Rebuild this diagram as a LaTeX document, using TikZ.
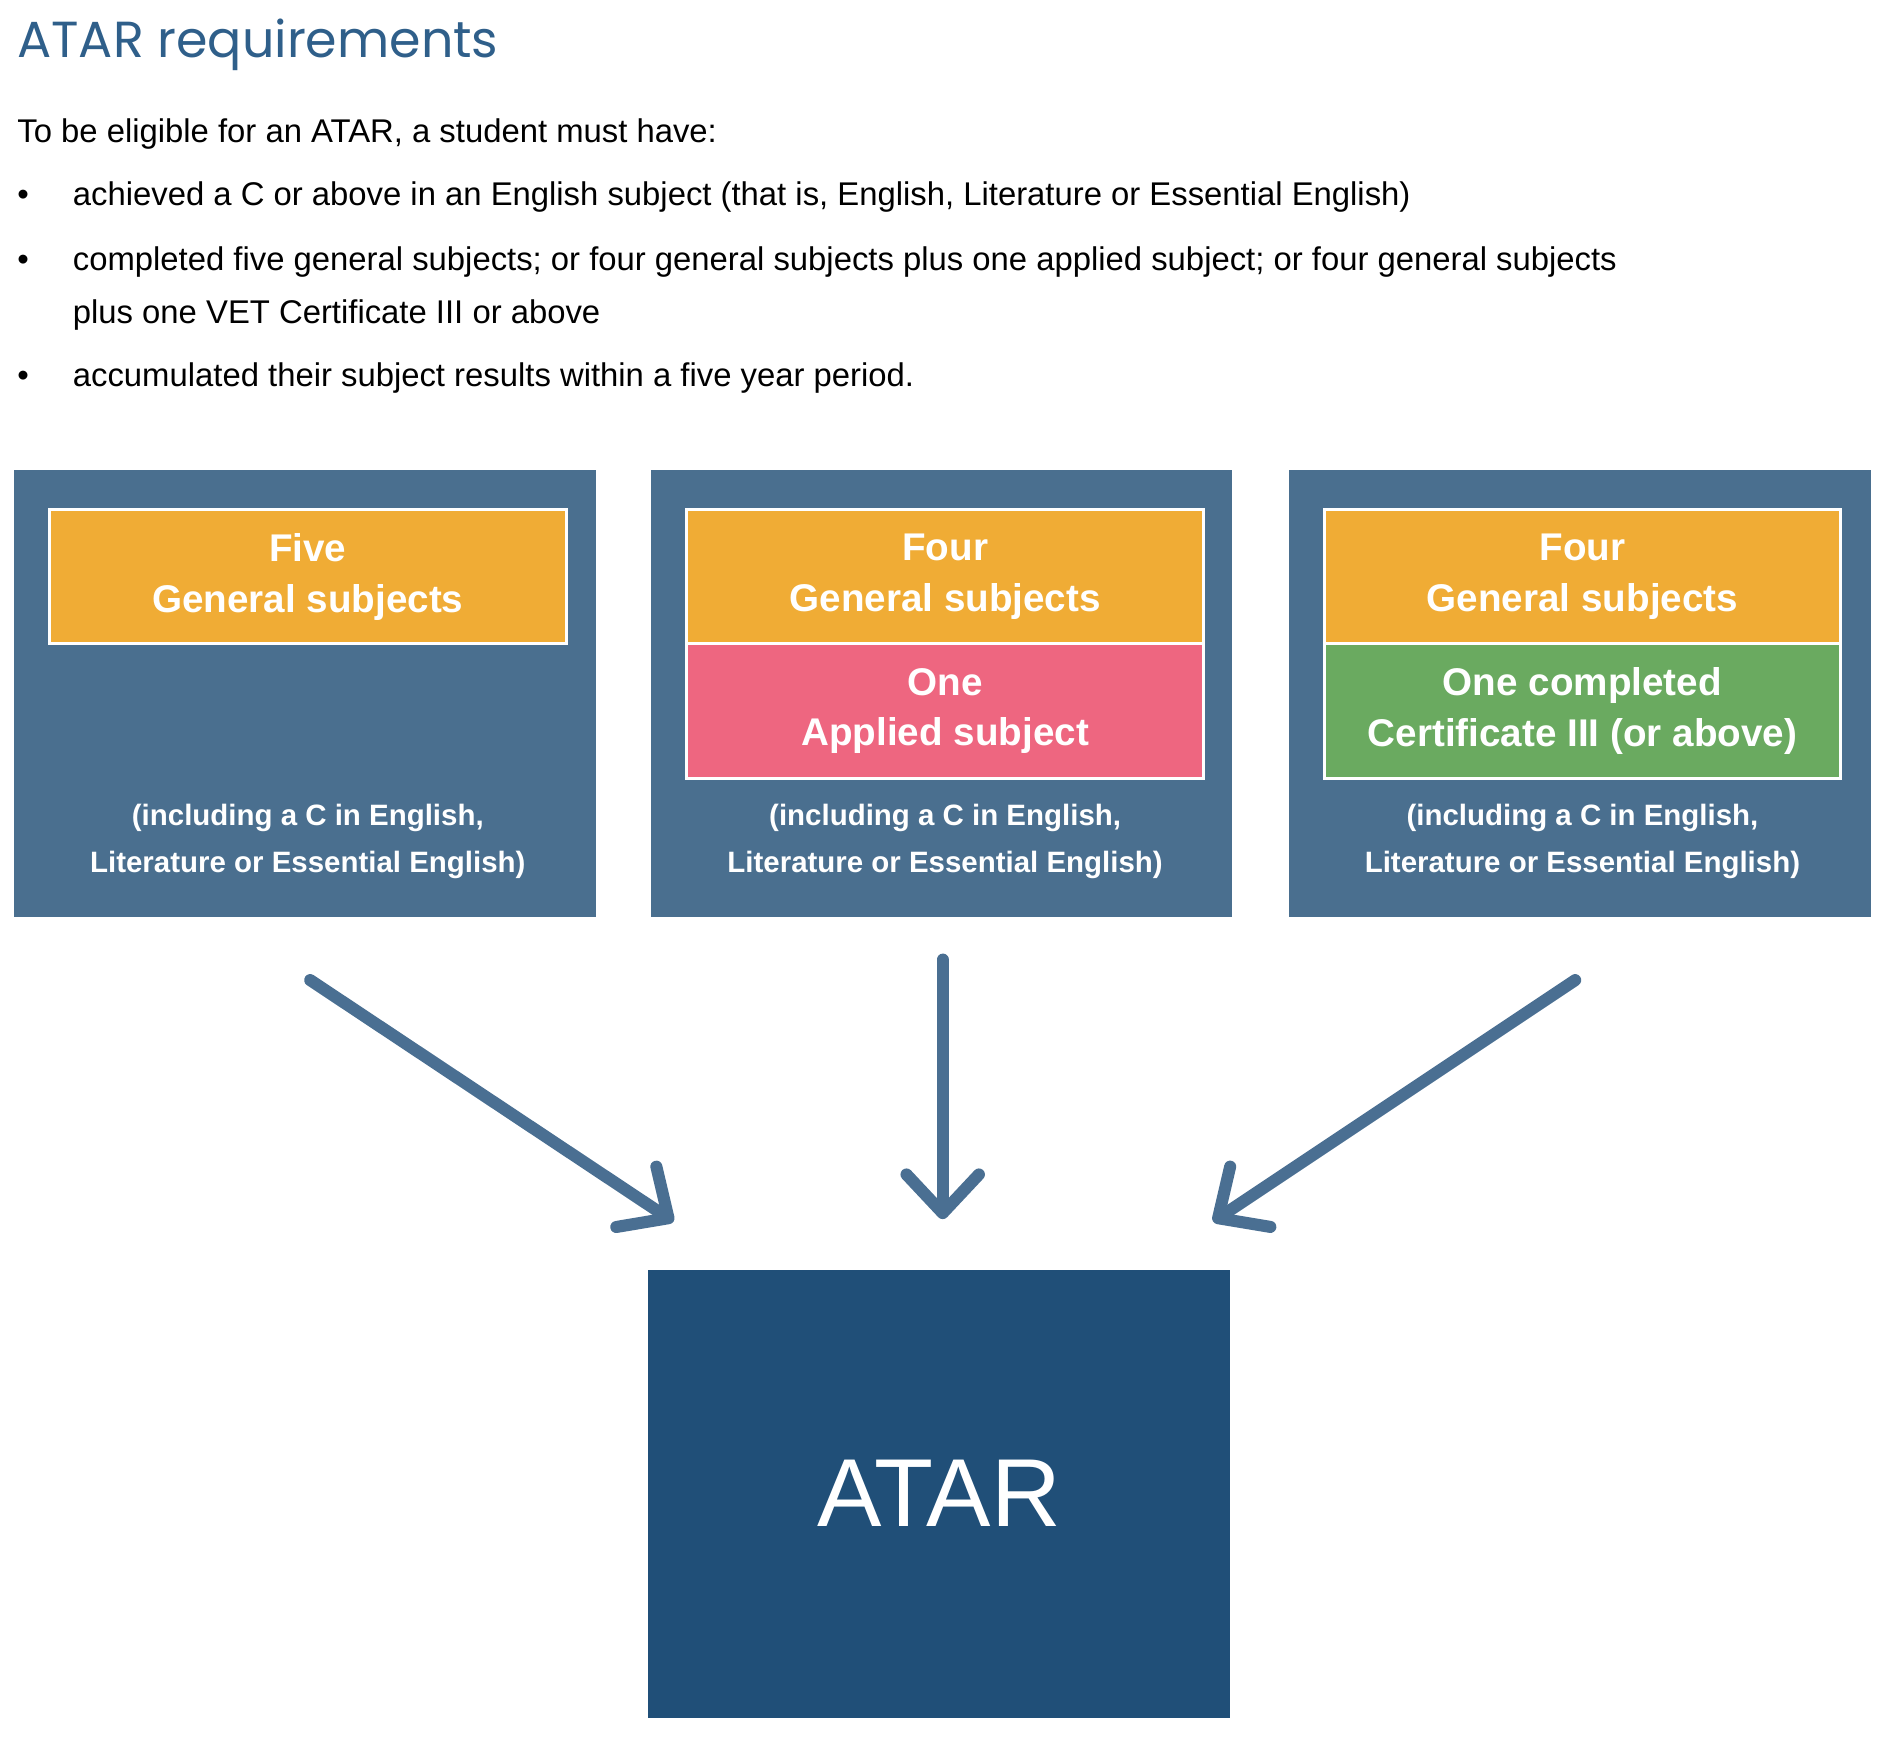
\documentclass[tikz,border=0pt]{standalone}
\usepackage{fontspec}
\setmainfont{Liberation Sans}
\newfontfamily\titlefont{Poppins}
\usetikzlibrary{arrows.meta}
\definecolor{outerblue}{HTML}{4A6F8F}
\definecolor{arrowblue}{HTML}{4A6F92}
\definecolor{darkblue}{HTML}{204F78}
\definecolor{titleblue}{HTML}{2F5F8A}
\definecolor{orangeb}{HTML}{F0AC35}
\definecolor{pinkb}{HTML}{EE6680}
\definecolor{greenb}{HTML}{6AAA60}
\tikzset{
  outer/.style={fill=outerblue,draw=none},
  inner/.style={draw=white,line width=1.2pt},
  head/.style={text=white,font=\bfseries\fontsize{16}{21}\selectfont,align=center},
  note/.style={text=white,font=\bfseries\fontsize{12.2}{19.5}\selectfont,align=center},
  body/.style={anchor=base west,font=\fontsize{13.6}{16}\selectfont,inner sep=0},
  arr/.style={draw=arrowblue,line width=5pt,line cap=round,-{Straight Barb[length=16pt,width=30pt,line width=5pt,round]}}
}
\begin{document}
\begin{tikzpicture}[x=0.5pt,y=-0.5pt]
\useasboundingbox (0,0) rectangle (1560,1440);
\node[anchor=base west,inner sep=0,text=titleblue,font=\titlefont\fontsize{21}{24}\selectfont] (title) at (14,48) {ATAR requirements};
\node[body] (intro) at (14,118) {To be eligible for an ATAR, a student must have:};
\node[body] (b1) at (14,170) {•};
\node[body] (t1) at (60,170) {achieved a C or above in an English subject (that is, English, Literature or Essential English)};
\node[body] (b2) at (14,224) {•};
\node[body] (t2) at (60,224) {completed five general subjects; or four general subjects plus one applied subject; or four general subjects};
\node[body] (t2b) at (60,268) {plus one VET Certificate III or above};
\node[body] (b3) at (14,320) {•};
\node[body] (t3) at (60,320) {accumulated their subject results within a five year period.};
% boxes
\fill[outer] (12,389) rectangle (494,760);
\fill[outer] (539,389) rectangle (1021,760);
\fill[outer] (1068,389) rectangle (1550,760);
\draw[inner,fill=orangeb] (41,422) rectangle (469,533);
\node[head] (h1) at (255,478) {Five\\General subjects};
\draw[inner,fill=orangeb] (569,422) rectangle (997,533);
\node[head] (h2) at (783,478) {Four\\General subjects};
\draw[inner,fill=pinkb] (569,533) rectangle (997,645);
\node[head] (p2) at (783,589) {One\\Applied subject};
\draw[inner,fill=orangeb] (1097,422) rectangle (1525,533);
\node[head] (h3) at (1311,478) {Four\\General subjects};
\draw[inner,fill=greenb] (1097,533) rectangle (1525,645);
\node[head] (g3) at (1311,589) {One completed\\Certificate III (or above)};
\node[note] (n1) at (255,697) {(including a C in English,\\Literature or Essential English)};
\node[note] (n2) at (783,697) {(including a C in English,\\Literature or Essential English)};
\node[note] (n3) at (1311,697) {(including a C in English,\\Literature or Essential English)};
% ATAR
\node[fill=darkblue,minimum width=241pt,minimum height=185.5pt,inner sep=0,text=white,font=\fontsize{40}{40}\selectfont] (atar) at (778,1237.5) {ATAR};
\coordinate (s1) at (257,812); \coordinate (e1) at (558,1012);
\coordinate (s2) at (781,795); \coordinate (e2) at (781,1010);
\coordinate (s3) at (1305,812); \coordinate (e3) at (1005,1012);
\draw[arr] (s1) -- (e1);
\draw[arr] (s2) -- (e2);
\draw[arr] (s3) -- (e3);
\end{tikzpicture}
\end{document}
